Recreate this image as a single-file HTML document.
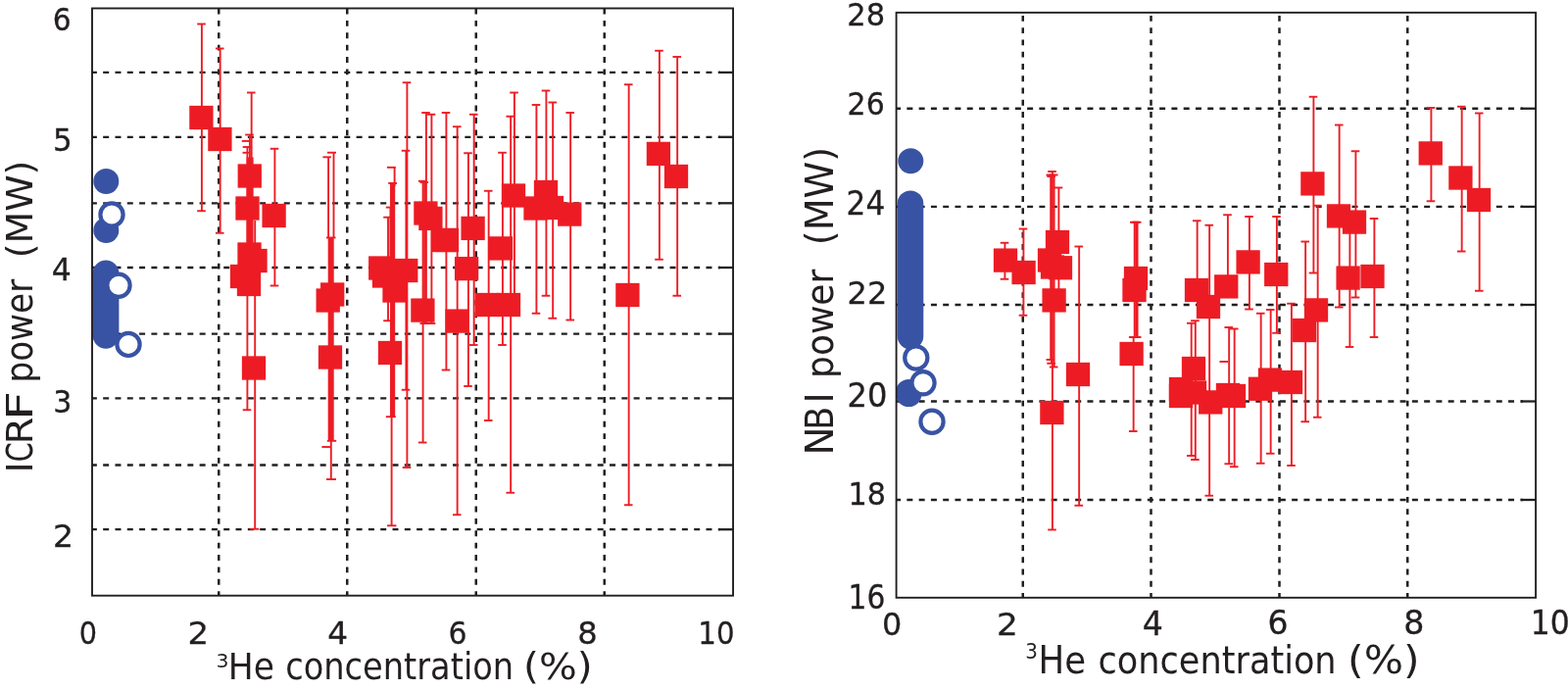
<!DOCTYPE html>
<html lang="en">
<head>
<meta charset="utf-8">
<title>ICRF and NBI power versus 3He concentration</title>
<style>
html,body{margin:0;padding:0;background:#fff;}
body{width:1600px;height:704px;overflow:hidden;font-family:"DejaVu Sans","Liberation Sans",sans-serif;}
svg{display:block;}
text{white-space:pre;}
</style>
</head>
<body>
<svg width="1600" height="704" viewBox="0 0 1600 704" role="img" aria-label="ICRF power and NBI power versus 3He concentration">
<rect x="0" y="0" width="1600" height="704" fill="#fff"/>
<g id="plot-icrf">
<g class="grid">
<line x1="223.25" y1="8.5" x2="223.25" y2="607.7" stroke="#231f20" stroke-width="2.5" stroke-dasharray="5.9 6.490" stroke-dashoffset="0"/>
<line x1="354.25" y1="8.5" x2="354.25" y2="607.7" stroke="#231f20" stroke-width="2.5" stroke-dasharray="5.9 6.490" stroke-dashoffset="0"/>
<line x1="485.75" y1="8.5" x2="485.75" y2="607.7" stroke="#231f20" stroke-width="2.5" stroke-dasharray="5.9 6.490" stroke-dashoffset="0"/>
<line x1="616.75" y1="8.5" x2="616.75" y2="607.7" stroke="#231f20" stroke-width="2.5" stroke-dasharray="5.9 6.490" stroke-dashoffset="0"/>
<line x1="94.0" y1="73.9" x2="735.05" y2="73.9" stroke="#231f20" stroke-width="2.3" stroke-dasharray="6 6.306" stroke-dashoffset="1.13"/>
<line x1="733.05" y1="73.9" x2="748.05" y2="73.9" stroke="#231f20" stroke-width="2.3"/>
<line x1="94.0" y1="139.8" x2="735.05" y2="139.8" stroke="#231f20" stroke-width="2.3" stroke-dasharray="6 6.306" stroke-dashoffset="1.13"/>
<line x1="733.05" y1="139.8" x2="748.05" y2="139.8" stroke="#231f20" stroke-width="2.3"/>
<line x1="94.0" y1="207.3" x2="735.05" y2="207.3" stroke="#231f20" stroke-width="2.3" stroke-dasharray="6 6.306" stroke-dashoffset="1.13"/>
<line x1="733.05" y1="207.3" x2="748.05" y2="207.3" stroke="#231f20" stroke-width="2.3"/>
<line x1="94.0" y1="273.0" x2="735.05" y2="273.0" stroke="#231f20" stroke-width="2.3" stroke-dasharray="6 6.306" stroke-dashoffset="1.13"/>
<line x1="733.05" y1="273.0" x2="748.05" y2="273.0" stroke="#231f20" stroke-width="2.3"/>
<line x1="94.0" y1="340.6" x2="735.05" y2="340.6" stroke="#231f20" stroke-width="2.3" stroke-dasharray="6 6.306" stroke-dashoffset="1.13"/>
<line x1="733.05" y1="340.6" x2="748.05" y2="340.6" stroke="#231f20" stroke-width="2.3"/>
<line x1="94.0" y1="406.4" x2="735.05" y2="406.4" stroke="#231f20" stroke-width="2.3" stroke-dasharray="6 6.306" stroke-dashoffset="1.13"/>
<line x1="733.05" y1="406.4" x2="748.05" y2="406.4" stroke="#231f20" stroke-width="2.3"/>
<line x1="94.0" y1="474.5" x2="735.05" y2="474.5" stroke="#231f20" stroke-width="2.3" stroke-dasharray="6 6.306" stroke-dashoffset="1.13"/>
<line x1="733.05" y1="474.5" x2="748.05" y2="474.5" stroke="#231f20" stroke-width="2.3"/>
<line x1="94.0" y1="540.2" x2="735.05" y2="540.2" stroke="#231f20" stroke-width="2.3" stroke-dasharray="6 6.306" stroke-dashoffset="1.13"/>
<line x1="733.05" y1="540.2" x2="748.05" y2="540.2" stroke="#231f20" stroke-width="2.3"/>
</g>
<g class="errorbars">
<line x1="205.90" y1="24.5" x2="205.90" y2="215.25" stroke="#ed1c24" stroke-width="1.9"/>
<line x1="201.20" y1="24.5" x2="209.80" y2="24.5" stroke="#ed1c24" stroke-width="1.9"/>
<line x1="201.20" y1="215.25" x2="209.80" y2="215.25" stroke="#ed1c24" stroke-width="1.9"/>
<line x1="224.65" y1="49.5" x2="224.65" y2="237.75" stroke="#ed1c24" stroke-width="1.9"/>
<line x1="219.95" y1="49.5" x2="228.55" y2="49.5" stroke="#ed1c24" stroke-width="1.9"/>
<line x1="219.95" y1="237.75" x2="228.55" y2="237.75" stroke="#ed1c24" stroke-width="1.9"/>
<line x1="256.65" y1="94.5" x2="256.65" y2="300" stroke="#ed1c24" stroke-width="1.9"/>
<line x1="251.95" y1="94.5" x2="260.55" y2="94.5" stroke="#ed1c24" stroke-width="1.9"/>
<line x1="251.95" y1="300" x2="260.55" y2="300" stroke="#ed1c24" stroke-width="1.9"/>
<line x1="280.40" y1="151.75" x2="280.40" y2="291.5" stroke="#ed1c24" stroke-width="1.9"/>
<line x1="275.70" y1="151.75" x2="284.30" y2="151.75" stroke="#ed1c24" stroke-width="1.9"/>
<line x1="275.70" y1="291.5" x2="284.30" y2="291.5" stroke="#ed1c24" stroke-width="1.9"/>
<line x1="252.40" y1="150" x2="252.40" y2="418.25" stroke="#ed1c24" stroke-width="1.9"/>
<line x1="247.70" y1="150" x2="256.30" y2="150" stroke="#ed1c24" stroke-width="1.9"/>
<line x1="247.70" y1="418.25" x2="256.30" y2="418.25" stroke="#ed1c24" stroke-width="1.9"/>
<line x1="254.90" y1="137.5" x2="254.90" y2="300" stroke="#ed1c24" stroke-width="1.9"/>
<line x1="250.20" y1="137.5" x2="258.80" y2="137.5" stroke="#ed1c24" stroke-width="1.9"/>
<line x1="250.20" y1="300" x2="258.80" y2="300" stroke="#ed1c24" stroke-width="1.9"/>
<line x1="415.40" y1="84.25" x2="415.40" y2="477" stroke="#ed1c24" stroke-width="1.9"/>
<line x1="410.70" y1="84.25" x2="419.30" y2="84.25" stroke="#ed1c24" stroke-width="1.9"/>
<line x1="410.70" y1="477" x2="419.30" y2="477" stroke="#ed1c24" stroke-width="1.9"/>
<line x1="414.40" y1="153.75" x2="414.40" y2="397.75" stroke="#ed1c24" stroke-width="1.9"/>
<line x1="409.70" y1="153.75" x2="418.30" y2="153.75" stroke="#ed1c24" stroke-width="1.9"/>
<line x1="409.70" y1="397.75" x2="418.30" y2="397.75" stroke="#ed1c24" stroke-width="1.9"/>
<line x1="434.90" y1="115" x2="434.90" y2="330" stroke="#ed1c24" stroke-width="1.9"/>
<line x1="430.20" y1="115" x2="438.80" y2="115" stroke="#ed1c24" stroke-width="1.9"/>
<line x1="430.20" y1="330" x2="438.80" y2="330" stroke="#ed1c24" stroke-width="1.9"/>
<line x1="440.40" y1="116.75" x2="440.40" y2="330" stroke="#ed1c24" stroke-width="1.9"/>
<line x1="435.70" y1="116.75" x2="444.30" y2="116.75" stroke="#ed1c24" stroke-width="1.9"/>
<line x1="435.70" y1="330" x2="444.30" y2="330" stroke="#ed1c24" stroke-width="1.9"/>
<line x1="431.60" y1="184.75" x2="431.60" y2="451.5" stroke="#ed1c24" stroke-width="1.9"/>
<line x1="426.90" y1="184.75" x2="435.50" y2="184.75" stroke="#ed1c24" stroke-width="1.9"/>
<line x1="426.90" y1="451.5" x2="435.50" y2="451.5" stroke="#ed1c24" stroke-width="1.9"/>
<line x1="433.20" y1="186" x2="433.20" y2="330" stroke="#ed1c24" stroke-width="1.9"/>
<line x1="428.50" y1="186" x2="437.10" y2="186" stroke="#ed1c24" stroke-width="1.9"/>
<line x1="428.50" y1="330" x2="437.10" y2="330" stroke="#ed1c24" stroke-width="1.9"/>
<line x1="455.40" y1="115" x2="455.40" y2="377.5" stroke="#ed1c24" stroke-width="1.9"/>
<line x1="450.70" y1="115" x2="459.30" y2="115" stroke="#ed1c24" stroke-width="1.9"/>
<line x1="450.70" y1="377.5" x2="459.30" y2="377.5" stroke="#ed1c24" stroke-width="1.9"/>
<line x1="466.65" y1="129.25" x2="466.65" y2="525.25" stroke="#ed1c24" stroke-width="1.9"/>
<line x1="461.95" y1="129.25" x2="470.55" y2="129.25" stroke="#ed1c24" stroke-width="1.9"/>
<line x1="461.95" y1="525.25" x2="470.55" y2="525.25" stroke="#ed1c24" stroke-width="1.9"/>
<line x1="477.90" y1="156.25" x2="477.90" y2="394" stroke="#ed1c24" stroke-width="1.9"/>
<line x1="473.20" y1="156.25" x2="481.80" y2="156.25" stroke="#ed1c24" stroke-width="1.9"/>
<line x1="473.20" y1="394" x2="481.80" y2="394" stroke="#ed1c24" stroke-width="1.9"/>
<line x1="483.65" y1="116.75" x2="483.65" y2="352" stroke="#ed1c24" stroke-width="1.9"/>
<line x1="478.95" y1="116.75" x2="487.55" y2="116.75" stroke="#ed1c24" stroke-width="1.9"/>
<line x1="478.95" y1="352" x2="487.55" y2="352" stroke="#ed1c24" stroke-width="1.9"/>
<line x1="498.65" y1="194.75" x2="498.65" y2="429" stroke="#ed1c24" stroke-width="1.9"/>
<line x1="493.95" y1="194.75" x2="502.55" y2="194.75" stroke="#ed1c24" stroke-width="1.9"/>
<line x1="493.95" y1="429" x2="502.55" y2="429" stroke="#ed1c24" stroke-width="1.9"/>
<line x1="512.90" y1="155.75" x2="512.90" y2="352" stroke="#ed1c24" stroke-width="1.9"/>
<line x1="508.20" y1="155.75" x2="516.80" y2="155.75" stroke="#ed1c24" stroke-width="1.9"/>
<line x1="508.20" y1="352" x2="516.80" y2="352" stroke="#ed1c24" stroke-width="1.9"/>
<line x1="521.15" y1="118.75" x2="521.15" y2="502.75" stroke="#ed1c24" stroke-width="1.9"/>
<line x1="516.45" y1="118.75" x2="525.05" y2="118.75" stroke="#ed1c24" stroke-width="1.9"/>
<line x1="516.45" y1="502.75" x2="525.05" y2="502.75" stroke="#ed1c24" stroke-width="1.9"/>
<line x1="524.90" y1="94.5" x2="524.90" y2="300" stroke="#ed1c24" stroke-width="1.9"/>
<line x1="520.20" y1="94.5" x2="528.80" y2="94.5" stroke="#ed1c24" stroke-width="1.9"/>
<line x1="520.20" y1="300" x2="528.80" y2="300" stroke="#ed1c24" stroke-width="1.9"/>
<line x1="547.40" y1="107" x2="547.40" y2="319.75" stroke="#ed1c24" stroke-width="1.9"/>
<line x1="542.70" y1="107" x2="551.30" y2="107" stroke="#ed1c24" stroke-width="1.9"/>
<line x1="542.70" y1="319.75" x2="551.30" y2="319.75" stroke="#ed1c24" stroke-width="1.9"/>
<line x1="557.40" y1="92.5" x2="557.40" y2="301.75" stroke="#ed1c24" stroke-width="1.9"/>
<line x1="552.70" y1="92.5" x2="561.30" y2="92.5" stroke="#ed1c24" stroke-width="1.9"/>
<line x1="552.70" y1="301.75" x2="561.30" y2="301.75" stroke="#ed1c24" stroke-width="1.9"/>
<line x1="564.15" y1="104.5" x2="564.15" y2="324.75" stroke="#ed1c24" stroke-width="1.9"/>
<line x1="559.45" y1="104.5" x2="568.05" y2="104.5" stroke="#ed1c24" stroke-width="1.9"/>
<line x1="559.45" y1="324.75" x2="568.05" y2="324.75" stroke="#ed1c24" stroke-width="1.9"/>
<line x1="582.15" y1="115" x2="582.15" y2="326.5" stroke="#ed1c24" stroke-width="1.9"/>
<line x1="577.45" y1="115" x2="586.05" y2="115" stroke="#ed1c24" stroke-width="1.9"/>
<line x1="577.45" y1="326.5" x2="586.05" y2="326.5" stroke="#ed1c24" stroke-width="1.9"/>
<line x1="641.65" y1="86.25" x2="641.65" y2="515.25" stroke="#ed1c24" stroke-width="1.9"/>
<line x1="636.95" y1="86.25" x2="645.55" y2="86.25" stroke="#ed1c24" stroke-width="1.9"/>
<line x1="636.95" y1="515.25" x2="645.55" y2="515.25" stroke="#ed1c24" stroke-width="1.9"/>
<line x1="672.90" y1="51.75" x2="672.90" y2="264.75" stroke="#ed1c24" stroke-width="1.9"/>
<line x1="668.20" y1="51.75" x2="676.80" y2="51.75" stroke="#ed1c24" stroke-width="1.9"/>
<line x1="668.20" y1="264.75" x2="676.80" y2="264.75" stroke="#ed1c24" stroke-width="1.9"/>
<line x1="691.15" y1="58" x2="691.15" y2="301.75" stroke="#ed1c24" stroke-width="1.9"/>
<line x1="686.45" y1="58" x2="695.05" y2="58" stroke="#ed1c24" stroke-width="1.9"/>
<line x1="686.45" y1="301.75" x2="695.05" y2="301.75" stroke="#ed1c24" stroke-width="1.9"/>
<line x1="260.2" y1="225" x2="260.2" y2="539.75" stroke="#ed1c24" stroke-width="1.9"/>
<line x1="254.9" y1="539.75" x2="264.3" y2="539.75" stroke="#ed1c24" stroke-width="1.9"/>
<line x1="246.8" y1="143.9" x2="255.6" y2="143.9" stroke="#ed1c24" stroke-width="1.9"/>
<line x1="247.5" y1="155.8" x2="255.2" y2="155.8" stroke="#ed1c24" stroke-width="1.9"/>
<line x1="255.1" y1="160.5" x2="255.1" y2="250" stroke="#ed1c24" stroke-width="7.0"/>
<line x1="335.1" y1="160.3" x2="335.1" y2="243" stroke="#ed1c24" stroke-width="1.9"/>
<line x1="329.4" y1="160.3" x2="337.9" y2="160.3" stroke="#ed1c24" stroke-width="1.9"/>
<line x1="340.5" y1="155.7" x2="340.5" y2="243" stroke="#ed1c24" stroke-width="1.9"/>
<line x1="334.0" y1="155.7" x2="343.0" y2="155.7" stroke="#ed1c24" stroke-width="1.9"/>
<line x1="337.7" y1="242.5" x2="337.7" y2="450" stroke="#ed1c24" stroke-width="6.0"/>
<line x1="333.0" y1="242.5" x2="342.5" y2="242.5" stroke="#ed1c24" stroke-width="1.9"/>
<line x1="333.8" y1="449.8" x2="343.2" y2="449.8" stroke="#ed1c24" stroke-width="1.9"/>
<line x1="328.4" y1="456" x2="337.8" y2="456" stroke="#ed1c24" stroke-width="1.9"/>
<line x1="337.8" y1="449" x2="337.8" y2="489" stroke="#ed1c24" stroke-width="1.9"/>
<line x1="333.0" y1="489" x2="343.0" y2="489" stroke="#ed1c24" stroke-width="1.9"/>
<line x1="402.6" y1="170.8" x2="402.6" y2="190" stroke="#ed1c24" stroke-width="1.9"/>
<line x1="394.9" y1="170.8" x2="403.8" y2="170.8" stroke="#ed1c24" stroke-width="1.9"/>
<line x1="396.2" y1="186.9" x2="405.0" y2="186.9" stroke="#ed1c24" stroke-width="1.9"/>
<line x1="400.6" y1="187" x2="400.6" y2="425" stroke="#ed1c24" stroke-width="5.2"/>
<line x1="393.8" y1="211.6" x2="401.2" y2="211.6" stroke="#ed1c24" stroke-width="1.9"/>
<line x1="398.4" y1="211.6" x2="398.4" y2="300" stroke="#ed1c24" stroke-width="1.9"/>
<line x1="391.2" y1="221.7" x2="399.6" y2="221.7" stroke="#ed1c24" stroke-width="1.9"/>
<line x1="396.0" y1="221.7" x2="396.0" y2="327.25" stroke="#ed1c24" stroke-width="1.9"/>
<line x1="391.2" y1="327.25" x2="399.6" y2="327.25" stroke="#ed1c24" stroke-width="1.9"/>
<line x1="393.8" y1="425.2" x2="403.8" y2="425.2" stroke="#ed1c24" stroke-width="1.9"/>
<line x1="399.6" y1="424" x2="399.6" y2="536.3" stroke="#ed1c24" stroke-width="1.9"/>
<line x1="395.0" y1="536.3" x2="404.4" y2="536.3" stroke="#ed1c24" stroke-width="1.9"/>
</g>
<g class="markers-3he">
<rect x="193.25" y="107.85" width="24.3" height="24.3" fill="#ed1c24"/>
<rect x="212.25" y="129.85" width="24.3" height="24.3" fill="#ed1c24"/>
<rect x="242.60" y="167.35" width="24.3" height="24.3" fill="#ed1c24"/>
<rect x="240.35" y="200.35" width="24.3" height="24.3" fill="#ed1c24"/>
<rect x="267.45" y="207.85" width="24.3" height="24.3" fill="#ed1c24"/>
<rect x="242.35" y="247.35" width="24.3" height="24.3" fill="#ed1c24"/>
<rect x="248.35" y="253.85" width="24.3" height="24.3" fill="#ed1c24"/>
<rect x="234.85" y="269.85" width="24.3" height="24.3" fill="#ed1c24"/>
<rect x="241.85" y="277.85" width="24.3" height="24.3" fill="#ed1c24"/>
<rect x="246.85" y="363.35" width="24.3" height="24.3" fill="#ed1c24"/>
<rect x="327.05" y="288.35" width="24.3" height="24.3" fill="#ed1c24"/>
<rect x="322.55" y="294.35" width="24.3" height="24.3" fill="#ed1c24"/>
<rect x="324.85" y="352.35" width="24.3" height="24.3" fill="#ed1c24"/>
<rect x="376.10" y="261.35" width="24.3" height="24.3" fill="#ed1c24"/>
<rect x="379.85" y="269.35" width="24.3" height="24.3" fill="#ed1c24"/>
<rect x="402.10" y="263.85" width="24.3" height="24.3" fill="#ed1c24"/>
<rect x="390.35" y="284.35" width="24.3" height="24.3" fill="#ed1c24"/>
<rect x="422.25" y="205.35" width="24.3" height="24.3" fill="#ed1c24"/>
<rect x="427.25" y="210.75" width="24.3" height="24.3" fill="#ed1c24"/>
<rect x="440.85" y="232.85" width="24.3" height="24.3" fill="#ed1c24"/>
<rect x="443.85" y="232.85" width="24.3" height="24.3" fill="#ed1c24"/>
<rect x="470.45" y="220.75" width="24.3" height="24.3" fill="#ed1c24"/>
<rect x="463.95" y="261.95" width="24.3" height="24.3" fill="#ed1c24"/>
<rect x="498.85" y="241.25" width="24.3" height="24.3" fill="#ed1c24"/>
<rect x="511.85" y="187.35" width="24.3" height="24.3" fill="#ed1c24"/>
<rect x="419.25" y="304.45" width="24.3" height="24.3" fill="#ed1c24"/>
<rect x="454.35" y="315.45" width="24.3" height="24.3" fill="#ed1c24"/>
<rect x="484.85" y="298.85" width="24.3" height="24.3" fill="#ed1c24"/>
<rect x="506.85" y="298.85" width="24.3" height="24.3" fill="#ed1c24"/>
<rect x="385.85" y="347.85" width="24.3" height="24.3" fill="#ed1c24"/>
<rect x="534.35" y="200.35" width="24.3" height="24.3" fill="#ed1c24"/>
<rect x="544.85" y="183.85" width="24.3" height="24.3" fill="#ed1c24"/>
<rect x="550.85" y="199.85" width="24.3" height="24.3" fill="#ed1c24"/>
<rect x="569.10" y="206.45" width="24.3" height="24.3" fill="#ed1c24"/>
<rect x="628.25" y="288.85" width="24.3" height="24.3" fill="#ed1c24"/>
<rect x="659.75" y="144.75" width="24.3" height="24.3" fill="#ed1c24"/>
<rect x="677.85" y="167.85" width="24.3" height="24.3" fill="#ed1c24"/>
</g>
<g class="markers-ref">
<circle cx="108.3" cy="185" r="13" fill="#3953a4"/>
<circle cx="108.3" cy="235" r="13" fill="#3953a4"/>
<rect x="94.6" y="265.6" width="26.8" height="90.10000000000001" rx="13.4" ry="13.4" fill="#3953a4"/>
<circle cx="114" cy="219" r="11.6" fill="#fff" stroke="#3953a4" stroke-width="4.2"/>
<circle cx="121" cy="291.25" r="11.6" fill="#fff" stroke="#3953a4" stroke-width="4.2"/>
<circle cx="131" cy="351.4" r="11.6" fill="#fff" stroke="#3953a4" stroke-width="4.2"/>
</g>
<rect x="94.0" y="8.5" width="654.05" height="599.2" fill="none" stroke="#231f20" stroke-width="1.9"/>
<g class="ticks">
<text transform="translate(53.87 31.18) scale(0.9482 1)" font-family="'DejaVu Sans', 'Liberation Sans', sans-serif" font-size="31.32" fill="#231f20" stroke="#231f20" stroke-width="0.3">6</text>
<text transform="translate(53.93 154.27) scale(0.9728 1)" font-family="'DejaVu Sans', 'Liberation Sans', sans-serif" font-size="31.81" fill="#231f20" stroke="#231f20" stroke-width="0.3">5</text>
<text transform="translate(52.67 286.20) scale(0.9936 1)" font-family="'DejaVu Sans', 'Liberation Sans', sans-serif" font-size="31.71" fill="#231f20" stroke="#231f20" stroke-width="0.3">4</text>
<text transform="translate(54.30 420.98) scale(0.9557 1)" font-family="'DejaVu Sans', 'Liberation Sans', sans-serif" font-size="31.39" fill="#231f20" stroke="#231f20" stroke-width="0.3">3</text>
<text transform="translate(54.07 557.95) scale(1.0405 1)" font-family="'DejaVu Sans', 'Liberation Sans', sans-serif" font-size="31.76" fill="#231f20" stroke="#231f20" stroke-width="0.3">2</text>
<text transform="translate(80.68 656.57) scale(0.8995 1)" font-family="'DejaVu Sans', 'Liberation Sans', sans-serif" font-size="31.92" fill="#231f20" stroke="#231f20" stroke-width="0.3">0</text>
<text transform="translate(191.41 656.55) scale(1.0634 1)" font-family="'DejaVu Sans', 'Liberation Sans', sans-serif" font-size="31.89" fill="#231f20" stroke="#231f20" stroke-width="0.3">2</text>
<text transform="translate(334.16 656.55) scale(1.0301 1)" font-family="'DejaVu Sans', 'Liberation Sans', sans-serif" font-size="31.78" fill="#231f20" stroke="#231f20" stroke-width="0.3">4</text>
<text transform="translate(457.46 656.57) scale(0.9367 1)" font-family="'DejaVu Sans', 'Liberation Sans', sans-serif" font-size="31.92" fill="#231f20" stroke="#231f20" stroke-width="0.3">6</text>
<text transform="translate(589.21 656.57) scale(1.0081 1)" font-family="'DejaVu Sans', 'Liberation Sans', sans-serif" font-size="31.92" fill="#231f20" stroke="#231f20" stroke-width="0.3">8</text>
<text transform="translate(712.34 656.57) scale(0.9155 1)" font-family="'DejaVu Sans', 'Liberation Sans', sans-serif" font-size="31.92" fill="#231f20" stroke="#231f20" stroke-width="0.3">10</text>
</g>
</g>
<g id="plot-nbi">
<g class="grid">
<line x1="1043.75" y1="12.85" x2="1043.75" y2="609.8" stroke="#231f20" stroke-width="2.5" stroke-dasharray="5.9 6.375" stroke-dashoffset="9.23"/>
<line x1="1174.5" y1="12.85" x2="1174.5" y2="609.8" stroke="#231f20" stroke-width="2.5" stroke-dasharray="5.9 6.375" stroke-dashoffset="9.23"/>
<line x1="1305.5" y1="12.85" x2="1305.5" y2="609.8" stroke="#231f20" stroke-width="2.5" stroke-dasharray="5.9 6.375" stroke-dashoffset="9.23"/>
<line x1="1436.25" y1="12.85" x2="1436.25" y2="609.8" stroke="#231f20" stroke-width="2.5" stroke-dasharray="5.9 6.375" stroke-dashoffset="9.23"/>
<line x1="914.6" y1="110.75" x2="1554.1" y2="110.75" stroke="#231f20" stroke-width="2.3" stroke-dasharray="6 6.274" stroke-dashoffset="1.5"/>
<line x1="1552.1" y1="110.75" x2="1567.1" y2="110.75" stroke="#231f20" stroke-width="2.3"/>
<line x1="914.6" y1="210.9" x2="1554.1" y2="210.9" stroke="#231f20" stroke-width="2.3" stroke-dasharray="6 6.274" stroke-dashoffset="1.5"/>
<line x1="1552.1" y1="210.9" x2="1567.1" y2="210.9" stroke="#231f20" stroke-width="2.3"/>
<line x1="914.6" y1="311.0" x2="1554.1" y2="311.0" stroke="#231f20" stroke-width="2.3" stroke-dasharray="6 6.274" stroke-dashoffset="1.5"/>
<line x1="1552.1" y1="311.0" x2="1567.1" y2="311.0" stroke="#231f20" stroke-width="2.3"/>
<line x1="914.6" y1="409.5" x2="1554.1" y2="409.5" stroke="#231f20" stroke-width="2.3" stroke-dasharray="6 6.274" stroke-dashoffset="1.5"/>
<line x1="1552.1" y1="409.5" x2="1567.1" y2="409.5" stroke="#231f20" stroke-width="2.3"/>
<line x1="914.6" y1="510.0" x2="1554.1" y2="510.0" stroke="#231f20" stroke-width="2.3" stroke-dasharray="6 6.274" stroke-dashoffset="1.5"/>
<line x1="1552.1" y1="510.0" x2="1567.1" y2="510.0" stroke="#231f20" stroke-width="2.3"/>
</g>
<g class="errorbars">
<line x1="1025.40" y1="247.75" x2="1025.40" y2="284.75" stroke="#ed1c24" stroke-width="1.9"/>
<line x1="1020.70" y1="247.75" x2="1029.30" y2="247.75" stroke="#ed1c24" stroke-width="1.9"/>
<line x1="1020.70" y1="284.75" x2="1029.30" y2="284.75" stroke="#ed1c24" stroke-width="1.9"/>
<line x1="1044.40" y1="233.5" x2="1044.40" y2="321.75" stroke="#ed1c24" stroke-width="1.9"/>
<line x1="1039.70" y1="233.5" x2="1048.30" y2="233.5" stroke="#ed1c24" stroke-width="1.9"/>
<line x1="1039.70" y1="321.75" x2="1048.30" y2="321.75" stroke="#ed1c24" stroke-width="1.9"/>
<line x1="1073.90" y1="175" x2="1073.90" y2="540.5" stroke="#ed1c24" stroke-width="1.9"/>
<line x1="1069.20" y1="175" x2="1077.80" y2="175" stroke="#ed1c24" stroke-width="1.9"/>
<line x1="1069.20" y1="540.5" x2="1077.80" y2="540.5" stroke="#ed1c24" stroke-width="1.9"/>
<line x1="1072.20" y1="178.5" x2="1072.20" y2="367" stroke="#ed1c24" stroke-width="1.9"/>
<line x1="1067.50" y1="178.5" x2="1076.10" y2="178.5" stroke="#ed1c24" stroke-width="1.9"/>
<line x1="1067.50" y1="367" x2="1076.10" y2="367" stroke="#ed1c24" stroke-width="1.9"/>
<line x1="1075.60" y1="178.5" x2="1075.60" y2="374.5" stroke="#ed1c24" stroke-width="1.9"/>
<line x1="1070.90" y1="178.5" x2="1079.50" y2="178.5" stroke="#ed1c24" stroke-width="1.9"/>
<line x1="1070.90" y1="374.5" x2="1079.50" y2="374.5" stroke="#ed1c24" stroke-width="1.9"/>
<line x1="1073.00" y1="180" x2="1073.00" y2="370.75" stroke="#ed1c24" stroke-width="1.9"/>
<line x1="1068.30" y1="180" x2="1076.90" y2="180" stroke="#ed1c24" stroke-width="1.9"/>
<line x1="1068.30" y1="370.75" x2="1076.90" y2="370.75" stroke="#ed1c24" stroke-width="1.9"/>
<line x1="1080.40" y1="191.5" x2="1080.40" y2="300" stroke="#ed1c24" stroke-width="1.9"/>
<line x1="1075.70" y1="191.5" x2="1084.30" y2="191.5" stroke="#ed1c24" stroke-width="1.9"/>
<line x1="1075.70" y1="300" x2="1084.30" y2="300" stroke="#ed1c24" stroke-width="1.9"/>
<line x1="1101.15" y1="251.5" x2="1101.15" y2="515.75" stroke="#ed1c24" stroke-width="1.9"/>
<line x1="1096.45" y1="251.5" x2="1105.05" y2="251.5" stroke="#ed1c24" stroke-width="1.9"/>
<line x1="1096.45" y1="515.75" x2="1105.05" y2="515.75" stroke="#ed1c24" stroke-width="1.9"/>
<line x1="1159.15" y1="226.75" x2="1159.15" y2="344" stroke="#ed1c24" stroke-width="1.9"/>
<line x1="1154.45" y1="226.75" x2="1163.05" y2="226.75" stroke="#ed1c24" stroke-width="1.9"/>
<line x1="1154.45" y1="344" x2="1163.05" y2="344" stroke="#ed1c24" stroke-width="1.9"/>
<line x1="1157.70" y1="226.75" x2="1157.70" y2="344" stroke="#ed1c24" stroke-width="1.9"/>
<line x1="1153.00" y1="226.75" x2="1161.60" y2="226.75" stroke="#ed1c24" stroke-width="1.9"/>
<line x1="1153.00" y1="344" x2="1161.60" y2="344" stroke="#ed1c24" stroke-width="1.9"/>
<line x1="1160.60" y1="226.75" x2="1160.60" y2="344" stroke="#ed1c24" stroke-width="1.9"/>
<line x1="1155.90" y1="226.75" x2="1164.50" y2="226.75" stroke="#ed1c24" stroke-width="1.9"/>
<line x1="1155.90" y1="344" x2="1164.50" y2="344" stroke="#ed1c24" stroke-width="1.9"/>
<line x1="1156.65" y1="344" x2="1156.65" y2="440" stroke="#ed1c24" stroke-width="1.9"/>
<line x1="1151.95" y1="344" x2="1160.55" y2="344" stroke="#ed1c24" stroke-width="1.9"/>
<line x1="1151.95" y1="440" x2="1160.55" y2="440" stroke="#ed1c24" stroke-width="1.9"/>
<line x1="1221.65" y1="225.25" x2="1221.65" y2="300" stroke="#ed1c24" stroke-width="1.9"/>
<line x1="1216.95" y1="225.25" x2="1225.55" y2="225.25" stroke="#ed1c24" stroke-width="1.9"/>
<line x1="1216.95" y1="300" x2="1225.55" y2="300" stroke="#ed1c24" stroke-width="1.9"/>
<line x1="1219.80" y1="327.25" x2="1219.80" y2="469" stroke="#ed1c24" stroke-width="1.9"/>
<line x1="1215.10" y1="327.25" x2="1223.70" y2="327.25" stroke="#ed1c24" stroke-width="1.9"/>
<line x1="1215.10" y1="469" x2="1223.70" y2="469" stroke="#ed1c24" stroke-width="1.9"/>
<line x1="1215.70" y1="329.75" x2="1215.70" y2="465" stroke="#ed1c24" stroke-width="1.9"/>
<line x1="1211.00" y1="329.75" x2="1219.60" y2="329.75" stroke="#ed1c24" stroke-width="1.9"/>
<line x1="1211.00" y1="465" x2="1219.60" y2="465" stroke="#ed1c24" stroke-width="1.9"/>
<line x1="1234.15" y1="229.75" x2="1234.15" y2="505.75" stroke="#ed1c24" stroke-width="1.9"/>
<line x1="1229.45" y1="229.75" x2="1238.05" y2="229.75" stroke="#ed1c24" stroke-width="1.9"/>
<line x1="1229.45" y1="505.75" x2="1238.05" y2="505.75" stroke="#ed1c24" stroke-width="1.9"/>
<line x1="1252.90" y1="219.25" x2="1252.90" y2="300" stroke="#ed1c24" stroke-width="1.9"/>
<line x1="1248.20" y1="219.25" x2="1256.80" y2="219.25" stroke="#ed1c24" stroke-width="1.9"/>
<line x1="1248.20" y1="300" x2="1256.80" y2="300" stroke="#ed1c24" stroke-width="1.9"/>
<line x1="1254.15" y1="334" x2="1254.15" y2="473.25" stroke="#ed1c24" stroke-width="1.9"/>
<line x1="1249.45" y1="334" x2="1258.05" y2="334" stroke="#ed1c24" stroke-width="1.9"/>
<line x1="1249.45" y1="473.25" x2="1258.05" y2="473.25" stroke="#ed1c24" stroke-width="1.9"/>
<line x1="1259.65" y1="335.5" x2="1259.65" y2="476.25" stroke="#ed1c24" stroke-width="1.9"/>
<line x1="1254.95" y1="335.5" x2="1263.55" y2="335.5" stroke="#ed1c24" stroke-width="1.9"/>
<line x1="1254.95" y1="476.25" x2="1263.55" y2="476.25" stroke="#ed1c24" stroke-width="1.9"/>
<line x1="1274.90" y1="221" x2="1274.90" y2="315.5" stroke="#ed1c24" stroke-width="1.9"/>
<line x1="1270.20" y1="221" x2="1278.80" y2="221" stroke="#ed1c24" stroke-width="1.9"/>
<line x1="1270.20" y1="315.5" x2="1278.80" y2="315.5" stroke="#ed1c24" stroke-width="1.9"/>
<line x1="1286.65" y1="319.75" x2="1286.65" y2="472.75" stroke="#ed1c24" stroke-width="1.9"/>
<line x1="1281.95" y1="319.75" x2="1290.55" y2="319.75" stroke="#ed1c24" stroke-width="1.9"/>
<line x1="1281.95" y1="472.75" x2="1290.55" y2="472.75" stroke="#ed1c24" stroke-width="1.9"/>
<line x1="1296.65" y1="316" x2="1296.65" y2="462.75" stroke="#ed1c24" stroke-width="1.9"/>
<line x1="1291.95" y1="316" x2="1300.55" y2="316" stroke="#ed1c24" stroke-width="1.9"/>
<line x1="1291.95" y1="462.75" x2="1300.55" y2="462.75" stroke="#ed1c24" stroke-width="1.9"/>
<line x1="1302.90" y1="221" x2="1302.90" y2="339.75" stroke="#ed1c24" stroke-width="1.9"/>
<line x1="1298.20" y1="221" x2="1306.80" y2="221" stroke="#ed1c24" stroke-width="1.9"/>
<line x1="1298.20" y1="339.75" x2="1306.80" y2="339.75" stroke="#ed1c24" stroke-width="1.9"/>
<line x1="1317.90" y1="309.75" x2="1317.90" y2="475" stroke="#ed1c24" stroke-width="1.9"/>
<line x1="1313.20" y1="309.75" x2="1321.80" y2="309.75" stroke="#ed1c24" stroke-width="1.9"/>
<line x1="1313.20" y1="475" x2="1321.80" y2="475" stroke="#ed1c24" stroke-width="1.9"/>
<line x1="1332.15" y1="246.5" x2="1332.15" y2="430.25" stroke="#ed1c24" stroke-width="1.9"/>
<line x1="1327.45" y1="246.5" x2="1336.05" y2="246.5" stroke="#ed1c24" stroke-width="1.9"/>
<line x1="1327.45" y1="430.25" x2="1336.05" y2="430.25" stroke="#ed1c24" stroke-width="1.9"/>
<line x1="1340.40" y1="98.75" x2="1340.40" y2="278.5" stroke="#ed1c24" stroke-width="1.9"/>
<line x1="1335.70" y1="98.75" x2="1344.30" y2="98.75" stroke="#ed1c24" stroke-width="1.9"/>
<line x1="1335.70" y1="278.5" x2="1344.30" y2="278.5" stroke="#ed1c24" stroke-width="1.9"/>
<line x1="1344.65" y1="209.75" x2="1344.65" y2="425.75" stroke="#ed1c24" stroke-width="1.9"/>
<line x1="1339.95" y1="209.75" x2="1348.55" y2="209.75" stroke="#ed1c24" stroke-width="1.9"/>
<line x1="1339.95" y1="425.75" x2="1348.55" y2="425.75" stroke="#ed1c24" stroke-width="1.9"/>
<line x1="1366.65" y1="127.5" x2="1366.65" y2="313.5" stroke="#ed1c24" stroke-width="1.9"/>
<line x1="1361.95" y1="127.5" x2="1370.55" y2="127.5" stroke="#ed1c24" stroke-width="1.9"/>
<line x1="1361.95" y1="313.5" x2="1370.55" y2="313.5" stroke="#ed1c24" stroke-width="1.9"/>
<line x1="1383.40" y1="154.25" x2="1383.40" y2="303.5" stroke="#ed1c24" stroke-width="1.9"/>
<line x1="1378.70" y1="154.25" x2="1387.30" y2="154.25" stroke="#ed1c24" stroke-width="1.9"/>
<line x1="1378.70" y1="303.5" x2="1387.30" y2="303.5" stroke="#ed1c24" stroke-width="1.9"/>
<line x1="1377.40" y1="230" x2="1377.40" y2="354" stroke="#ed1c24" stroke-width="1.9"/>
<line x1="1372.70" y1="230" x2="1381.30" y2="230" stroke="#ed1c24" stroke-width="1.9"/>
<line x1="1372.70" y1="354" x2="1381.30" y2="354" stroke="#ed1c24" stroke-width="1.9"/>
<line x1="1402.40" y1="223" x2="1402.40" y2="344" stroke="#ed1c24" stroke-width="1.9"/>
<line x1="1397.70" y1="223" x2="1406.30" y2="223" stroke="#ed1c24" stroke-width="1.9"/>
<line x1="1397.70" y1="344" x2="1406.30" y2="344" stroke="#ed1c24" stroke-width="1.9"/>
<line x1="1460.40" y1="110" x2="1460.40" y2="205.25" stroke="#ed1c24" stroke-width="1.9"/>
<line x1="1455.70" y1="110" x2="1464.30" y2="110" stroke="#ed1c24" stroke-width="1.9"/>
<line x1="1455.70" y1="205.25" x2="1464.30" y2="205.25" stroke="#ed1c24" stroke-width="1.9"/>
<line x1="1491.65" y1="108.75" x2="1491.65" y2="256.5" stroke="#ed1c24" stroke-width="1.9"/>
<line x1="1486.95" y1="108.75" x2="1495.55" y2="108.75" stroke="#ed1c24" stroke-width="1.9"/>
<line x1="1486.95" y1="256.5" x2="1495.55" y2="256.5" stroke="#ed1c24" stroke-width="1.9"/>
<line x1="1509.65" y1="115.5" x2="1509.65" y2="296.75" stroke="#ed1c24" stroke-width="1.9"/>
<line x1="1504.95" y1="115.5" x2="1513.55" y2="115.5" stroke="#ed1c24" stroke-width="1.9"/>
<line x1="1504.95" y1="296.75" x2="1513.55" y2="296.75" stroke="#ed1c24" stroke-width="1.9"/>
<line x1="1244.45" y1="369" x2="1253.05" y2="369" stroke="#ed1c24" stroke-width="1.9"/>
</g>
<g class="markers-3he">
<rect x="1013.85" y="253.45" width="24.3" height="24.3" fill="#ed1c24"/>
<rect x="1032.45" y="265.85" width="24.3" height="24.3" fill="#ed1c24"/>
<rect x="1066.85" y="234.85" width="24.3" height="24.3" fill="#ed1c24"/>
<rect x="1058.85" y="253.35" width="24.3" height="24.3" fill="#ed1c24"/>
<rect x="1069.85" y="261.10" width="24.3" height="24.3" fill="#ed1c24"/>
<rect x="1061.85" y="260.35" width="24.3" height="24.3" fill="#ed1c24"/>
<rect x="1063.45" y="294.25" width="24.3" height="24.3" fill="#ed1c24"/>
<rect x="1087.85" y="369.85" width="24.3" height="24.3" fill="#ed1c24"/>
<rect x="1061.25" y="408.85" width="24.3" height="24.3" fill="#ed1c24"/>
<rect x="1146.85" y="271.85" width="24.3" height="24.3" fill="#ed1c24"/>
<rect x="1145.35" y="283.85" width="24.3" height="24.3" fill="#ed1c24"/>
<rect x="1142.45" y="348.85" width="24.3" height="24.3" fill="#ed1c24"/>
<rect x="1192.85" y="384.85" width="24.3" height="24.3" fill="#ed1c24"/>
<rect x="1192.85" y="391.85" width="24.3" height="24.3" fill="#ed1c24"/>
<rect x="1206.85" y="388.35" width="24.3" height="24.3" fill="#ed1c24"/>
<rect x="1205.85" y="363.85" width="24.3" height="24.3" fill="#ed1c24"/>
<rect x="1208.85" y="283.85" width="24.3" height="24.3" fill="#ed1c24"/>
<rect x="1220.85" y="300.85" width="24.3" height="24.3" fill="#ed1c24"/>
<rect x="1239.10" y="280.25" width="24.3" height="24.3" fill="#ed1c24"/>
<rect x="1261.45" y="255.25" width="24.3" height="24.3" fill="#ed1c24"/>
<rect x="1290.10" y="267.85" width="24.3" height="24.3" fill="#ed1c24"/>
<rect x="1223.10" y="398.25" width="24.3" height="24.3" fill="#ed1c24"/>
<rect x="1240.85" y="390.85" width="24.3" height="24.3" fill="#ed1c24"/>
<rect x="1246.85" y="391.85" width="24.3" height="24.3" fill="#ed1c24"/>
<rect x="1273.85" y="384.60" width="24.3" height="24.3" fill="#ed1c24"/>
<rect x="1283.85" y="375.45" width="24.3" height="24.3" fill="#ed1c24"/>
<rect x="1304.85" y="377.85" width="24.3" height="24.3" fill="#ed1c24"/>
<rect x="1327.25" y="175.25" width="24.3" height="24.3" fill="#ed1c24"/>
<rect x="1353.85" y="208.25" width="24.3" height="24.3" fill="#ed1c24"/>
<rect x="1369.85" y="214.45" width="24.3" height="24.3" fill="#ed1c24"/>
<rect x="1363.45" y="271.45" width="24.3" height="24.3" fill="#ed1c24"/>
<rect x="1388.35" y="269.85" width="24.3" height="24.3" fill="#ed1c24"/>
<rect x="1330.85" y="304.25" width="24.3" height="24.3" fill="#ed1c24"/>
<rect x="1318.85" y="324.85" width="24.3" height="24.3" fill="#ed1c24"/>
<rect x="1447.60" y="144.25" width="24.3" height="24.3" fill="#ed1c24"/>
<rect x="1478.25" y="169.35" width="24.3" height="24.3" fill="#ed1c24"/>
<rect x="1496.85" y="191.85" width="24.3" height="24.3" fill="#ed1c24"/>
</g>
<g class="markers-ref">
<circle cx="929.3" cy="164.2" r="13" fill="#3953a4"/>
<rect x="915.7" y="194.39999999999998" width="26.6" height="161.9" rx="13.3" ry="13.3" fill="#3953a4"/>
<rect x="914.0" y="386.9" width="26.6" height="28.200000000000024" rx="13.3" ry="13.3" fill="#3953a4"/>
<circle cx="934.8" cy="365" r="11.6" fill="#fff" stroke="#3953a4" stroke-width="4.2"/>
<circle cx="942" cy="390.8" r="11.6" fill="#fff" stroke="#3953a4" stroke-width="4.2"/>
<circle cx="951" cy="430.2" r="11.6" fill="#fff" stroke="#3953a4" stroke-width="4.2"/>
</g>
<rect x="914.6" y="12.85" width="652.4999999999999" height="596.9499999999999" fill="none" stroke="#231f20" stroke-width="1.9"/>
<g class="ticks">
<text transform="translate(864.36 25.77) scale(0.9605 1)" font-family="'DejaVu Sans', 'Liberation Sans', sans-serif" font-size="31.79" fill="#231f20" stroke="#231f20" stroke-width="0.3">28</text>
<text transform="translate(864.55 117.17) scale(0.9283 1)" font-family="'DejaVu Sans', 'Liberation Sans', sans-serif" font-size="32.32" fill="#231f20" stroke="#231f20" stroke-width="0.3">26</text>
<text transform="translate(863.61 219.25) scale(0.9406 1)" font-family="'DejaVu Sans', 'Liberation Sans', sans-serif" font-size="33.11" fill="#231f20" stroke="#231f20" stroke-width="0.3">24</text>
<text transform="translate(864.55 309.55) scale(0.9815 1)" font-family="'DejaVu Sans', 'Liberation Sans', sans-serif" font-size="32.57" fill="#231f20" stroke="#231f20" stroke-width="0.3">22</text>
<text transform="translate(864.54 415.26) scale(0.9780 1)" font-family="'DejaVu Sans', 'Liberation Sans', sans-serif" font-size="32.85" fill="#231f20" stroke="#231f20" stroke-width="0.3">20</text>
<text transform="translate(865.62 514.68) scale(0.9589 1)" font-family="'DejaVu Sans', 'Liberation Sans', sans-serif" font-size="31.52" fill="#231f20" stroke="#231f20" stroke-width="0.3">18</text>
<text transform="translate(865.53 621.36) scale(0.9000 1)" font-family="'DejaVu Sans', 'Liberation Sans', sans-serif" font-size="32.98" fill="#231f20" stroke="#231f20" stroke-width="0.3">16</text>
<text transform="translate(899.88 647.56) scale(0.9825 1)" font-family="'DejaVu Sans', 'Liberation Sans', sans-serif" font-size="32.45" fill="#231f20" stroke="#231f20" stroke-width="0.3">0</text>
<text transform="translate(1016.88 647.70) scale(1.0713 1)" font-family="'DejaVu Sans', 'Liberation Sans', sans-serif" font-size="31.96" fill="#231f20" stroke="#231f20" stroke-width="0.3">2</text>
<text transform="translate(1165.79 647.65) scale(1.0059 1)" font-family="'DejaVu Sans', 'Liberation Sans', sans-serif" font-size="33.01" fill="#231f20" stroke="#231f20" stroke-width="0.3">4</text>
<text transform="translate(1293.44 647.45) scale(0.9987 1)" font-family="'DejaVu Sans', 'Liberation Sans', sans-serif" font-size="33.11" fill="#231f20" stroke="#231f20" stroke-width="0.3">6</text>
<text transform="translate(1432.29 647.46) scale(1.0087 1)" font-family="'DejaVu Sans', 'Liberation Sans', sans-serif" font-size="32.98" fill="#231f20" stroke="#231f20" stroke-width="0.3">8</text>
<text transform="translate(1561.69 647.46) scale(0.9526 1)" font-family="'DejaVu Sans', 'Liberation Sans', sans-serif" font-size="32.98" fill="#231f20" stroke="#231f20" stroke-width="0.3">10</text>
</g>
</g>
<g class="axis-labels">
<text transform="translate(0 693.10)" font-family="'DejaVu Sans', 'Liberation Sans', sans-serif" font-size="36.90" fill="#231f20"><tspan x="220.47" textLength="12.99" lengthAdjust="spacingAndGlyphs" font-size="20.00" dy="-12.60">3</tspan><tspan x="232.81" textLength="47.09" lengthAdjust="spacingAndGlyphs" dy="12.60">He</tspan> <tspan x="291.25" textLength="232.89" lengthAdjust="spacingAndGlyphs">concentration</tspan> <tspan x="534.03" textLength="70.72" lengthAdjust="spacingAndGlyphs">(%)</tspan></text>
<text transform="translate(0 687.00)" font-family="'DejaVu Sans', 'Liberation Sans', sans-serif" font-size="39.40" fill="#231f20"><tspan x="1046.36" textLength="12.66" lengthAdjust="spacingAndGlyphs" font-size="21.00" dy="-14.80">3</tspan><tspan x="1059.55" textLength="48.55" lengthAdjust="spacingAndGlyphs" dy="14.80">He</tspan> <tspan x="1120.57" textLength="243.05" lengthAdjust="spacingAndGlyphs">concentration</tspan> <tspan x="1375.14" textLength="73.49" lengthAdjust="spacingAndGlyphs">(%)</tspan></text>
<text transform="translate(32.80 0) rotate(-90)" font-family="'DejaVu Sans', 'Liberation Sans', sans-serif" font-size="37.50" fill="#231f20"><tspan x="-482.49" textLength="11.18" lengthAdjust="spacingAndGlyphs">I</tspan><tspan x="-471.39" textLength="20.24" lengthAdjust="spacingAndGlyphs">C</tspan><tspan x="-453.50" textLength="27.79" lengthAdjust="spacingAndGlyphs">R</tspan><tspan x="-428.95" textLength="29.93" lengthAdjust="spacingAndGlyphs">F</tspan> <tspan x="-390.58" textLength="105.81" lengthAdjust="spacingAndGlyphs">power</tspan> <tspan x="-263.21" textLength="99.50" lengthAdjust="spacingAndGlyphs">(MW)</tspan></text>
<text transform="translate(849.50 0) rotate(-90)" font-family="'DejaVu Sans', 'Liberation Sans', sans-serif" font-size="38.40" fill="#231f20"><tspan x="-464.49" textLength="29.11" lengthAdjust="spacingAndGlyphs">N</tspan><tspan x="-438.80" textLength="23.98" lengthAdjust="spacingAndGlyphs">B</tspan><tspan x="-411.39" textLength="11.18" lengthAdjust="spacingAndGlyphs">I</tspan> <tspan x="-385.94" textLength="111.17" lengthAdjust="spacingAndGlyphs">power</tspan> <tspan x="-250.24" textLength="100.46" lengthAdjust="spacingAndGlyphs">(MW)</tspan></text>
</g>
</svg>
</body>
</html>
